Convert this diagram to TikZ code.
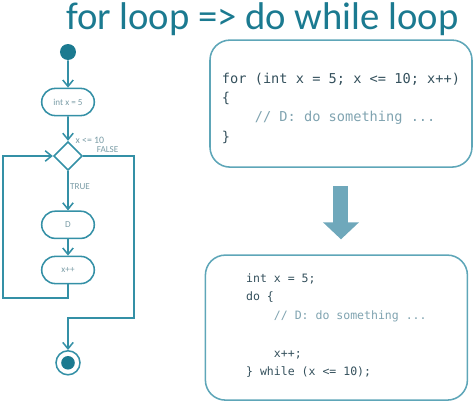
\documentclass[tikz,border=0pt]{standalone}
\usepackage{fontspec}
\setmainfont{Carlito}
\setmonofont{DejaVu Sans Mono}
\usetikzlibrary{arrows.meta,shapes.geometric,shapes.misc}
\definecolor{titleteal}{HTML}{1B7A90}
\definecolor{lineteal}{HTML}{3490A6}
\definecolor{boxteal}{HTML}{5EA6B8}
\definecolor{arrowteal}{HTML}{6FA8BB}
\definecolor{labgray}{HTML}{7A9CA6}
\definecolor{codegray}{HTML}{34505C}
\definecolor{commentgray}{HTML}{7FA3B0}
\newcommand{\ind}{\hphantom{xxxx}}

\begin{document}
\begin{tikzpicture}[every node/.style={font=\small}, >={Straight Barb[length=1.6mm,width=2.6mm]}, flow/.style={draw=lineteal, line width=1.1pt}, act/.style={flow, rounded rectangle, minimum width=1.55cm, minimum height=0.68cm, font=\fontsize{6.5}{7}\selectfont, text=labgray}, lab/.style={font=\fontsize{6.5}{7}\selectfont, text=labgray, inner sep=1pt}, codebox/.style={draw=boxteal, line width=1.1pt, rounded corners=0.5cm, align=left, text=codegray}]
	\useasboundingbox (0,0) rectangle (11.85,-10.075);
	\node[text=titleteal, font=\fontsize{27.5}{30}\selectfont] (title) at (6.56,-0.48) {for loop => do while loop};
	% flow chart of the for loop
	\node[circle, fill=titleteal, minimum size=0.4cm, inner sep=0] (start) at (1.7,-1.3) {};
	\node[act] (init) at (1.7,-2.55) {int x = 5};
	\node[flow, diamond, minimum width=0.72cm, minimum height=0.72cm, inner sep=0] (cond) at (1.7,-3.9) {};
	\node[act] (body) at (1.7,-5.62) {D};
	\node[act] (incr) at (1.7,-6.75) {x++};
	\node[flow, circle, minimum size=0.6cm, inner sep=0, path picture={\fill[titleteal] (path picture bounding box.center) circle (0.17cm);}] (stop) at (1.7,-9.07) {};
	\node[lab, font=\fontsize{7}{8}\selectfont, anchor=west] (condlab) at (1.85,-3.5) {x <= 10};
	\node[lab, anchor=west] (falselab) at (2.38,-3.75) {FALSE};
	\coordinate (loopcorner) at (0.075,-7.45);
	\coordinate (exitcorner) at (3.35,-7.95);
	\draw[flow, ->] (start) -- (init);
	\draw[flow, ->] (init) -- (cond);
	\draw[flow, ->] (cond) -- (body) node[lab, pos=0.4, right] {TRUE};
	\draw[flow, ->] (body) -- (incr);
	\draw[flow, ->] (incr.south) |- (loopcorner) |- (cond.west);
	\draw[flow, ->] (cond.east) -| (exitcorner) -| (stop.north);
	% code boxes
	\node[codebox, font=\ttfamily\fontsize{9.7}{13.6}\selectfont, minimum width=6.55cm, minimum height=3.175cm] (forbox) at (8.525,-2.59) {\rule{0pt}{14pt}for (int x = 5; x <= 10; x++)\\ \{\\ \ind{\color{commentgray}// D: do something ...}\\ \}};
	\node[codebox, font=\ttfamily\fontsize{8.2}{13.3}\selectfont, minimum width=6.55cm, minimum height=3.625cm] (dobox) at (8.41,-8.19) {\rule{0pt}{9pt}int x = 5;\\ do \{\\ \ind{\color{commentgray}// D: do something ...}\\ \strut\\ \ind x++;\\ \} while (x <= 10);\rule[-7pt]{0pt}{7pt}};
	\draw[arrowteal, line width=0.375cm, -{Triangle[width=0.875cm, length=0.425cm]}, shorten <=0.45cm, shorten >=0.375cm] (forbox.south) -- (forbox.south |- dobox.north);
\end{tikzpicture}
\end{document}
